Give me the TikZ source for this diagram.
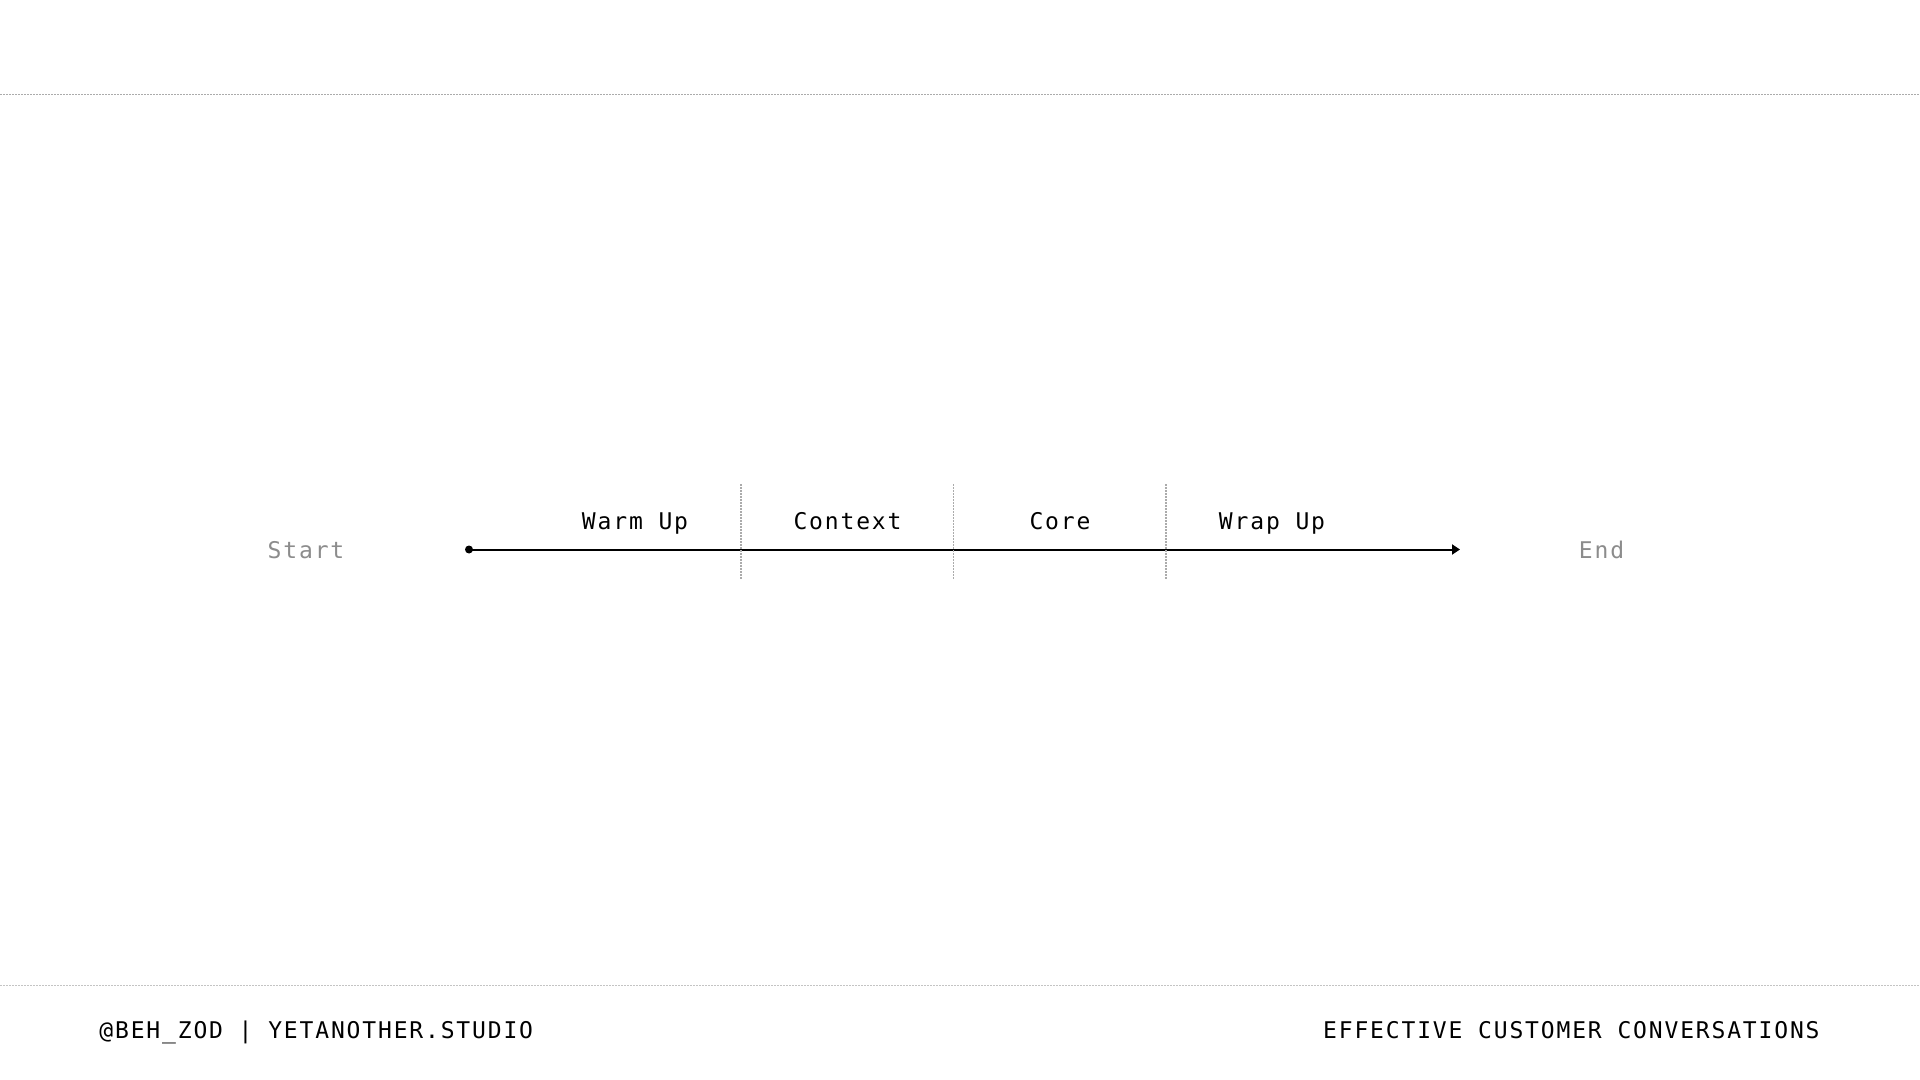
\documentclass[tikz,border=0pt]{standalone}
\usepackage{fontspec}
\setmonofont[LetterSpace=8]{DejaVu Sans Mono}
\usetikzlibrary{arrows.meta}
\definecolor{softgray}{HTML}{8C8C8C}
\definecolor{rulegray}{HTML}{ABABAB}
\definecolor{lightrule}{HTML}{C4C4C4}
\tikzset{
  mono/.style={font=\ttfamily\fontsize{11.5}{14}\selectfont,inner sep=0pt},
  phase/.style={mono,anchor=base},
  divider/.style={rulegray,line width=0.75pt,dash pattern=on 0.75pt off 0.75pt}
}
\begin{document}
\begin{tikzpicture}[x=0.5pt,y=-0.5pt]
\useasboundingbox (0,0) rectangle (1920,1080);
% frame rules
\draw [rulegray,line width=0.5pt,dash pattern=on 0.75pt off 0.75pt] (0,95) -- (1920,95);
\draw [lightrule,line width=0.5pt,dash pattern=on 0.75pt off 0.75pt] (0,985) -- (1920,985);
% timeline
\coordinate (tstart) at (469,549.5);
\coordinate (tend) at (1460,549.5);
\draw [line width=1pt,-{Triangle[length=4pt,width=5pt]}] (tstart) -- (tend);
\fill (tstart) circle [radius=2pt];
\foreach \x in {741,953.5,1166}
  \draw [divider] (\x,484) -- (\x,580);
\node [phase] (warmup) at (635,529) {Warm Up};
\node [phase] (context) at (847.5,529) {Context};
\node [phase] (core) at (1060,529) {Core};
\node [phase] (wrapup) at (1272,529) {Wrap Up};
\node [phase,softgray] (start) at (306,558) {Start};
\node [phase,softgray] (end) at (1601.5,558) {End};
% footer
\node [mono,anchor=base west] (handle) at (99,1038) {@BEH\_ZOD | YETANOTHER.STUDIO};
\node [mono,anchor=base east] (title) at (1820,1038) {EFFECTIVE CUSTOMER CONVERSATIONS};
\end{tikzpicture}
\end{document}
